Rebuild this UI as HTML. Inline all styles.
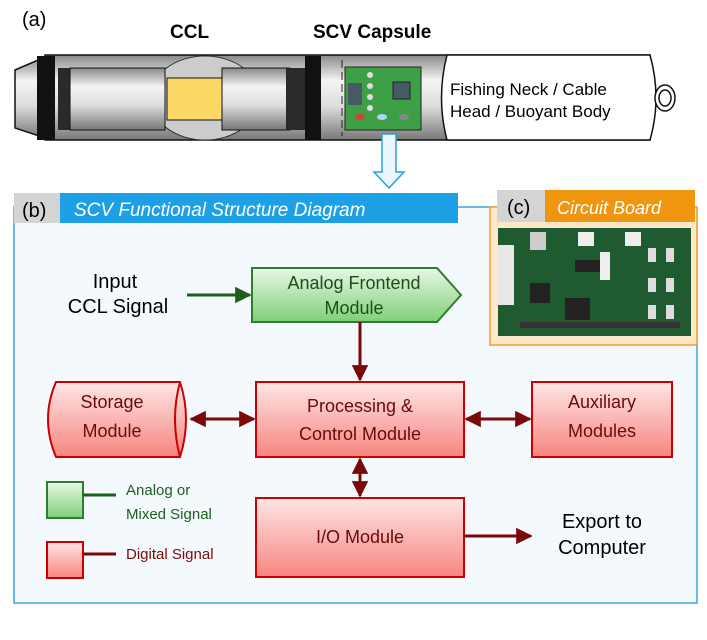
<!DOCTYPE html>
<html><head><meta charset="utf-8"><style>
body{margin:0;background:#fff;width:707px;height:635px;overflow:hidden}
text{font-family:"Liberation Sans",sans-serif}
</style></head><body>
<svg width="707" height="635" viewBox="0 0 707 635" xmlns="http://www.w3.org/2000/svg">
<defs>
<linearGradient id="cyl" x1="0" y1="0" x2="0" y2="1">
<stop offset="0" stop-color="#888"/><stop offset="0.3" stop-color="#f4f4f4"/><stop offset="0.6" stop-color="#ddd"/><stop offset="1" stop-color="#777"/></linearGradient>
<linearGradient id="gr" x1="0" y1="0" x2="0" y2="1"><stop offset="0" stop-color="#e8f7e4"/><stop offset="1" stop-color="#7fcf78"/></linearGradient>
<linearGradient id="rd" x1="0" y1="0" x2="0" y2="1"><stop offset="0" stop-color="#fde6e6"/><stop offset="1" stop-color="#f7857f"/></linearGradient>
<marker id="ar" viewBox="0 0 10 10" refX="9" refY="5" markerWidth="5.5" markerHeight="5.5" orient="auto-start-reverse"><path d="M0 0L10 5L0 10z" fill="#7a0a0a"/></marker>
<marker id="ag" viewBox="0 0 10 10" refX="9" refY="5" markerWidth="5.5" markerHeight="5.5" orient="auto"><path d="M0 0L10 5L0 10z" fill="#1e5e1e"/></marker>
</defs>
<text x="22" y="26" font-size="20">(a)</text>
<text x="170" y="38" font-size="19" font-weight="bold">CCL</text>
<text x="313" y="38" font-size="19" font-weight="bold">SCV Capsule</text>
<path d="M15 70 L45 57 L45 138 L15 128 Z" fill="url(#cyl)" stroke="#111" stroke-width="1.5"/>
<rect x="45" y="55" width="605" height="85" fill="url(#cyl)" stroke="#111" stroke-width="1.5"/>
<rect x="37" y="56" width="18" height="84" fill="#111"/>
<ellipse cx="205" cy="98" rx="55" ry="42" fill="#ccc" stroke="#333"/>
<rect x="58" y="68" width="14" height="62" fill="#2a2a2a"/>
<rect x="70" y="68" width="95" height="62" fill="url(#cyl)" stroke="#111"/>
<rect x="167" y="78" width="55" height="42" fill="#fdd867" stroke="#111"/>
<rect x="222" y="68" width="68" height="62" fill="url(#cyl)" stroke="#111"/>
<rect x="286" y="68" width="20" height="62" fill="#2a2a2a"/>
<rect x="305" y="56" width="16" height="84" fill="#111"/>
<line x1="342" y1="60" x2="342" y2="136" stroke="#222" stroke-dasharray="8,4"/>
<rect x="345" y="67" width="76" height="63" fill="#3da046" stroke="#222"/>
<rect x="348" y="83" width="14" height="22" fill="#455a64"/>
<circle cx="370" cy="75" r="3" fill="#ddd"/><circle cx="370" cy="86" r="3" fill="#ddd"/><circle cx="370" cy="97" r="3" fill="#ddd"/><circle cx="370" cy="108" r="3" fill="#ddd"/>
<rect x="393" y="82" width="17" height="17" fill="#455a64" stroke="#222"/>
<ellipse cx="360" cy="117" rx="5" ry="3" fill="#e53935"/><ellipse cx="382" cy="117" rx="5" ry="3" fill="#b3d4f5"/><ellipse cx="404" cy="117" rx="5" ry="3" fill="#888"/>
<path d="M447 55 L650 55 Q662 98 650 140 L447 140 Q436 98 447 55Z" fill="#fff" stroke="#111" stroke-width="1.5"/>
<ellipse cx="665" cy="98" rx="10" ry="13" fill="#fff" stroke="#111" stroke-width="1.5"/>
<ellipse cx="665" cy="98" rx="6" ry="8" fill="#fff" stroke="#111" stroke-width="1.5"/>
<text x="450" y="95" font-size="17">Fishing Neck / Cable</text>
<text x="450" y="117" font-size="17">Head / Buoyant Body</text>
<path d="M382 134 H396 V172 H404 L389 188 L374 172 H382 Z" fill="#eaf5fd" stroke="#2aa0e0" stroke-width="1.5"/>
<rect x="14" y="207" width="683" height="396" fill="#f4f9fd" stroke="#38a6e2" stroke-width="1.5"/>
<rect x="14" y="193" width="46" height="30" fill="#d4d4d4"/>
<rect x="60" y="193" width="398" height="30" fill="#1ea0e6"/>
<text x="22" y="217" font-size="20">(b)</text>
<text x="74" y="216" font-size="19" font-style="italic" fill="#fff">SCV Functional Structure Diagram</text>
<rect x="490" y="207" width="207" height="138" fill="#fde9c9" stroke="#f0a030" stroke-width="1.5"/>
<rect x="497" y="190" width="48" height="32" fill="#d4d4d4"/>
<rect x="545" y="190" width="150" height="32" fill="#f0950f"/>
<text x="507" y="214" font-size="20">(c)</text>
<text x="557" y="214" font-size="18" font-style="italic" fill="#fff">Circuit Board</text>
<rect x="498" y="228" width="193" height="108" fill="#1f5a30"/>
<rect x="498" y="245" width="16" height="60" fill="#e8e8e8"/>
<rect x="530" y="232" width="16" height="18" fill="#ccc"/><rect x="578" y="232" width="16" height="14" fill="#eee"/><rect x="625" y="232" width="16" height="14" fill="#eee"/>
<rect x="530" y="283" width="20" height="20" fill="#222"/><rect x="565" y="298" width="25" height="22" fill="#222"/>
<rect x="575" y="260" width="25" height="12" fill="#222"/><rect x="600" y="252" width="10" height="28" fill="#eee"/>
<rect x="520" y="322" width="160" height="6" fill="#333"/>
<rect x="648" y="248" width="8" height="14" fill="#ddd"/><rect x="666" y="248" width="8" height="14" fill="#ddd"/><rect x="648" y="278" width="8" height="14" fill="#ddd"/><rect x="666" y="278" width="8" height="14" fill="#ddd"/><rect x="648" y="305" width="8" height="14" fill="#ddd"/><rect x="666" y="305" width="8" height="14" fill="#ddd"/>
<text x="115" y="288" font-size="20" text-anchor="middle">Input</text>
<text x="118" y="313" font-size="20" text-anchor="middle">CCL Signal</text>
<line x1="187" y1="295" x2="250" y2="295" stroke="#1e5e1e" stroke-width="3" marker-end="url(#ag)"/>
<path d="M252 268 H437 L461 295 L437 322 H252 Z" fill="url(#gr)" stroke="#2e7d32" stroke-width="2"/>
<text x="354" y="289" font-size="18" text-anchor="middle" fill="#1e4e1e">Analog Frontend</text>
<text x="354" y="314" font-size="18" text-anchor="middle" fill="#1e4e1e">Module</text>
<line x1="360" y1="322" x2="360" y2="380" stroke="#7a0a0a" stroke-width="3" marker-end="url(#ar)"/>
<rect x="256" y="382" width="208" height="75" fill="url(#rd)" stroke="#c00" stroke-width="2"/>
<text x="360" y="412" font-size="18" text-anchor="middle" fill="#6a0a0a">Processing &amp;</text>
<text x="360" y="440" font-size="18" text-anchor="middle" fill="#6a0a0a">Control Module</text>
<path d="M56 382 H180 Q192 419 180 457 H56 Q40 419 56 382 Z" fill="url(#rd)" stroke="#c00" stroke-width="2"/>
<path d="M180 382 Q170 419 180 457" fill="none" stroke="#c00" stroke-width="2"/>
<text x="112" y="408" font-size="18" text-anchor="middle" fill="#6a0a0a">Storage</text>
<text x="112" y="437" font-size="18" text-anchor="middle" fill="#6a0a0a">Module</text>
<line x1="191" y1="419" x2="254" y2="419" stroke="#7a0a0a" stroke-width="3" marker-start="url(#ar)" marker-end="url(#ar)"/>
<rect x="532" y="382" width="140" height="75" fill="url(#rd)" stroke="#c00" stroke-width="2"/>
<text x="602" y="408" font-size="18" text-anchor="middle" fill="#6a0a0a">Auxiliary</text>
<text x="602" y="437" font-size="18" text-anchor="middle" fill="#6a0a0a">Modules</text>
<line x1="466" y1="419" x2="530" y2="419" stroke="#7a0a0a" stroke-width="3" marker-start="url(#ar)" marker-end="url(#ar)"/>
<line x1="360" y1="459" x2="360" y2="496" stroke="#7a0a0a" stroke-width="3" marker-start="url(#ar)" marker-end="url(#ar)"/>
<rect x="256" y="498" width="208" height="79" fill="url(#rd)" stroke="#c00" stroke-width="2"/>
<text x="360" y="543" font-size="18" text-anchor="middle" fill="#6a0a0a">I/O Module</text>
<line x1="464" y1="536" x2="531" y2="536" stroke="#7a0a0a" stroke-width="3" marker-end="url(#ar)"/>
<text x="602" y="528" font-size="20" text-anchor="middle">Export to</text>
<text x="602" y="554" font-size="20" text-anchor="middle">Computer</text>
<rect x="47" y="482" width="36" height="36" fill="url(#gr)" stroke="#2e7d32" stroke-width="2"/>
<line x1="83" y1="495" x2="116" y2="495" stroke="#1e5e1e" stroke-width="3"/>
<text x="126" y="495" font-size="15" fill="#1e5e1e">Analog or</text>
<text x="126" y="519" font-size="15" fill="#1e5e1e">Mixed Signal</text>
<rect x="47" y="542" width="36" height="36" fill="url(#rd)" stroke="#c00" stroke-width="2"/>
<line x1="83" y1="554" x2="116" y2="554" stroke="#7a0a0a" stroke-width="3"/>
<text x="126" y="559" font-size="15" fill="#7a0a0a">Digital Signal</text>
</svg>
</body></html>
